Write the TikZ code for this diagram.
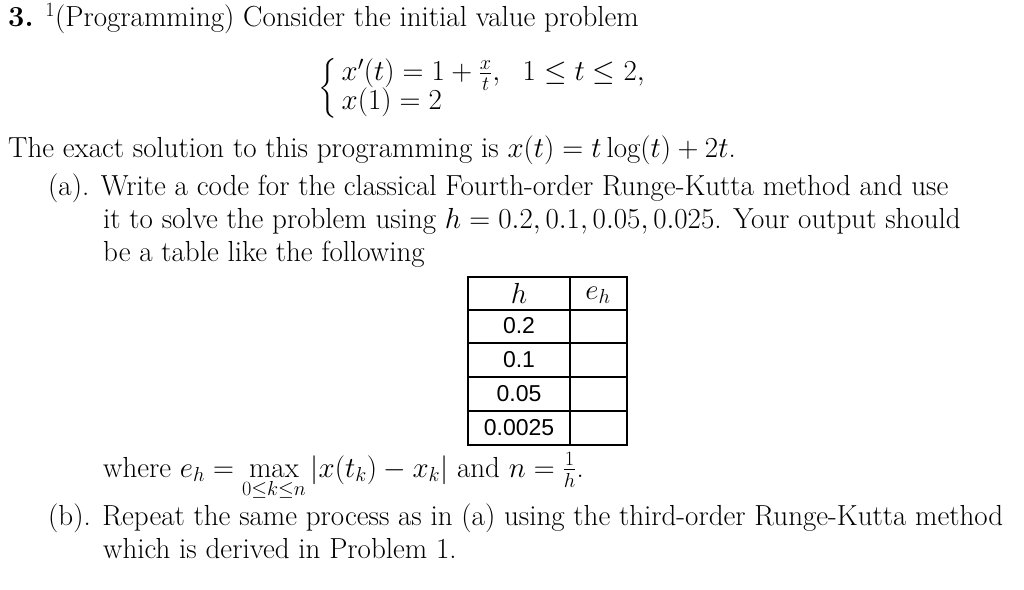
\RequirePackage{fix-cm}
\documentclass[tikz,border=0pt]{standalone}
\usepackage{amsmath}
\usepackage{fontspec}
\newfontfamily\hv{Liberation Sans}
\begin{document}
\begin{tikzpicture}[x=1pt,y=-1pt,
  txt/.style={anchor=base west,inner sep=0pt,font=\fontsize{29}{33}\selectfont},
  cell/.style={anchor=center,inner sep=0pt,font=\fontsize{23}{28}\selectfont\hv}]
\useasboundingbox[fill=white] (0,0) rectangle (1024,589);
\node[txt] (l1) at (8,27) {\textbf{3.} $^{1}$(Programming) Consider the initial value problem};
\node[txt] (sys) at (318,96) {$\left\{\begin{array}{@{\,}l}x'(t)=1+\frac{x}{t},\ \ 1\le t\le 2,\\[-4pt] x(1)=2\end{array}\right.$};
\node[txt] (l2) at (8,157) {The exact solution to this programming is $x(t)=t\log(t)+2t$.};
\node[txt] (a1) at (48,195) {(a). Write a code for the classical Fourth-order Runge-Kutta method and use};
\node[txt] (a2) at (103,228) {it to solve the problem using $h=0.2,0.1,0.05,0.025$. Your output should};
\node[txt] (a3) at (103,261) {be a table like the following};
\draw[line width=1.2pt] (468,277) rectangle (627,445);
\foreach \y in {310,343,377,411} \draw[line width=1.2pt] (468,\y) -- (627,\y);
\draw[line width=1.2pt] (570,277) -- (570,445);
\node[cell,font=\fontsize{29}{33}\selectfont] (h) at (519,293) {$h$};
\node[cell,font=\fontsize{29}{33}\selectfont] (eh) at (598,295) {$e_h$};
\node[cell] (r1) at (519,326) {0.2};
\node[cell] (r2) at (519,360) {0.1};
\node[cell] (r3) at (519,394) {0.05};
\node[cell] (r4) at (519,428) {0.0025};
\node[txt] (w) at (103,477) {where $e_h=\displaystyle\max_{0\le k\le n}|x(t_k)-x_k|$ and $n=\frac{1}{h}$.};
\node[txt] (b1) at (48,525) {(b). Repeat the same process as in (a) using the third-order Runge-Kutta method};
\node[txt] (b2) at (103,558) {which is derived in Problem 1.};
\end{tikzpicture}
\end{document}
